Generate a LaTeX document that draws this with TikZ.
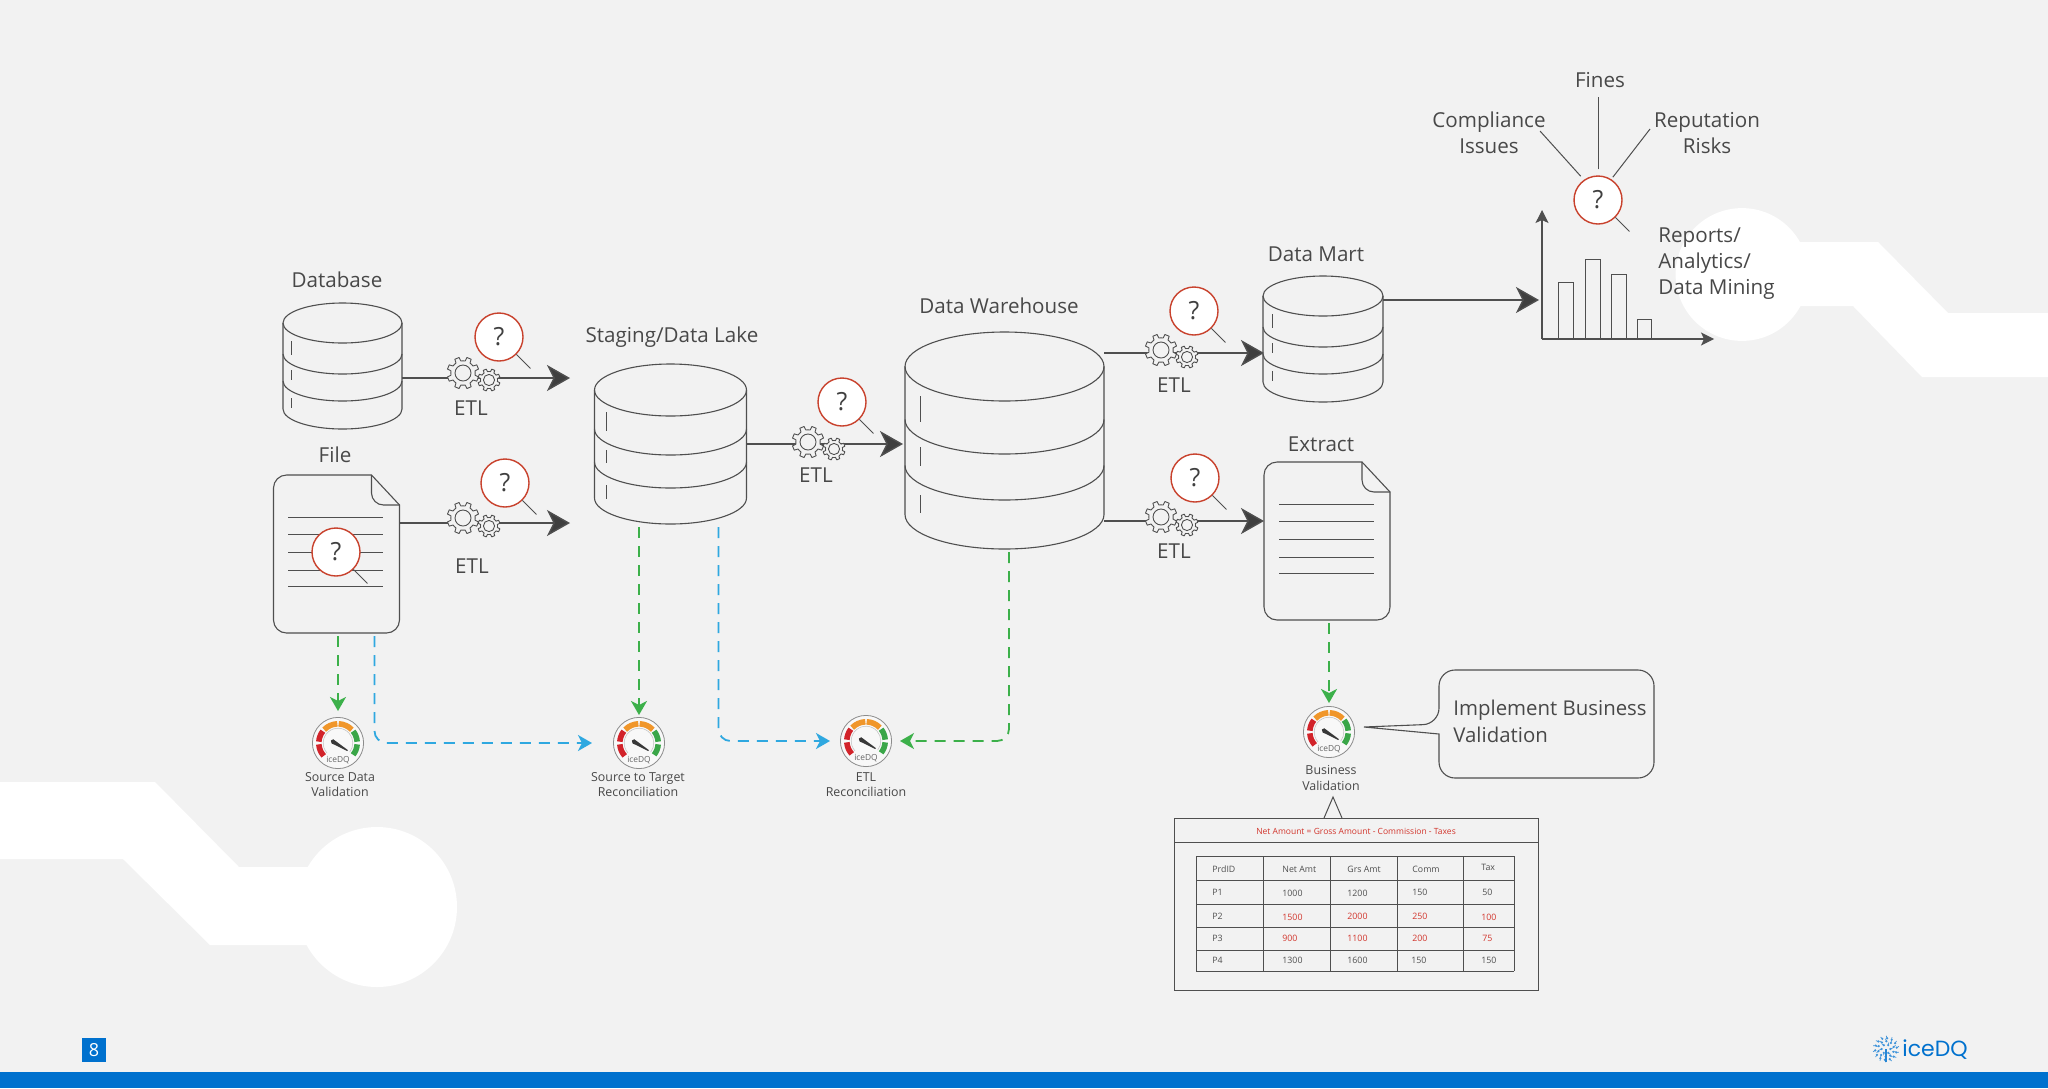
\documentclass[tikz,border=0pt]{standalone}
\usepackage{fontspec}
\setmainfont{Open Sans}
\newfontfamily\logofont{Poppins}
\usetikzlibrary{arrows.meta,calc}
\definecolor{bgc}{HTML}{F2F2F2}
\definecolor{ink}{HTML}{4F4F4F}
\definecolor{txt}{HTML}{484848}
\definecolor{qred}{HTML}{C8412C}
\definecolor{gdash}{HTML}{3CB04A}
\definecolor{bdash}{HTML}{2FA8E0}
\definecolor{barb}{HTML}{0071CE}
\definecolor{tred}{HTML}{D2352C}
\definecolor{gred}{HTML}{D2232A}
\definecolor{gora}{HTML}{F0962A}
\definecolor{ggre}{HTML}{3AA648}
\tikzset{
  shp/.style={draw=ink,line width=0.55pt,fill=bgc},
  ln/.style={draw=ink,line width=0.5pt},
  hit/.style={inner sep=0pt,outer sep=0pt,rectangle},
  flow/.style={draw=ink,line width=0.7pt,-{Stealth[length=11.5pt,width=13pt,inset=3.2pt,fill=ink!80!black]}},
  thinar/.style={draw=ink,line width=0.6pt,-{Stealth[length=6.5pt,width=6.5pt,inset=1.5pt]}},
  gd/.style={draw=gdash,line width=0.9pt,dash pattern=on 5.5pt off 4pt,rounded corners=6pt,-{Stealth[length=7pt,width=8pt,inset=2pt,fill=gdash]}},
  bd/.style={draw=bdash,line width=0.9pt,dash pattern=on 5.5pt off 4pt,rounded corners=6pt,-{Stealth[length=7pt,width=8pt,inset=2pt,fill=bdash]}},
  qc/.style={circle,draw=qred,line width=0.7pt,fill=white,minimum size=24pt,inner sep=0pt,text=black!75,font=\fontsize{12.5}{13}\selectfont},
  lbl/.style={inner sep=0pt,text=txt,align=center,yshift=-0.5pt,font=\fontsize{10.3}{13}\selectfont},
  lbll/.style={lbl,align=left},
  gl/.style={inner sep=0pt,text=txt,align=center,font=\fontsize{6.2}{7.6}\selectfont},
  gaugec/.style={circle,draw=black!45,line width=0.4pt,fill=bgc!50!white,minimum size=25.6pt,inner sep=0pt},
  tc/.style={inner sep=0pt,text=ink,anchor=west,font=\fontsize{4.4}{5}\selectfont},
  tr/.style={tc,text=tred},
}
% name, cx, top, rx, ry, band1 bottom, band2 bottom, bottom, ticks x/y1/y2
\newcommand{\cylshape}[9]{%
  \pgfmathsetmacro{\tcy}{#3+#5}%
  \pgfmathsetmacro{\bcy}{#8-#5}%
  \pgfmathsetmacro{\ony}{#6-#5}%
  \pgfmathsetmacro{\twy}{#7-#5}%
  \pgfmathsetmacro{\rxp}{#4/2}%
  \pgfmathsetmacro{\ryp}{#5/2}%
  \pgfmathsetmacro{\xl}{#2-#4}%
  \pgfmathsetmacro{\xr}{#2+#4}%
  \pgfmathsetmacro{\midy}{(#3+#8)/2}%
  \pgfmathsetmacro{\hp}{(#8-#3)/2}%
  \node[hit,minimum width=#4*1pt,minimum height=\hp pt] (#1) at (#2,\midy) {};
  \draw[shp] (\xl,\tcy) -- (\xl,\bcy) arc[start angle=180,end angle=360,x radius=\rxp pt,y radius=\ryp pt] -- (\xr,\tcy) arc[start angle=0,end angle=180,x radius=\rxp pt,y radius=\ryp pt] -- cycle;
  \draw[shp,fill=none] (\xl,\tcy) arc[start angle=180,end angle=360,x radius=\rxp pt,y radius=\ryp pt];
  \draw[shp,fill=none] (\xl,\ony) arc[start angle=180,end angle=360,x radius=\rxp pt,y radius=\ryp pt];
  \draw[shp,fill=none] (\xl,\twy) arc[start angle=180,end angle=360,x radius=\rxp pt,y radius=\ryp pt];
  \foreach \tx/\ta/\tb in {#9} {\draw[ln,line width=0.4pt] (\tx,\ta) -- (\tx,\tb);}
}
% name, left, top
\newcommand{\docshape}[3]{%
  \pgfmathsetmacro{\dr}{#2+126}%
  \pgfmathsetmacro{\db}{#3+158}%
  \pgfmathsetmacro{\fx}{#2+98}%
  \pgfmathsetmacro{\fy}{#3+30}%
  \pgfmathsetmacro{\mx}{#2+63}%
  \pgfmathsetmacro{\my}{#3+79}%
  \node[hit,minimum width=63pt,minimum height=79pt] (#1) at (\mx,\my) {};
  \draw[shp] (\fx,#3) [rounded corners=6.5pt] -- (#2,#3) -- (#2,\db) -- (\dr,\db) [sharp corners] -- (\dr,\fy) -- cycle;
  \draw[shp,fill=none,rounded corners=6pt] (\fx,#3) -- (\fx,\fy) -- (\dr,\fy);
}
\newcommand{\gearshape}[4]{% x y R teeth
  \pgfmathsetmacro{\gi}{#3*0.76}\pgfmathsetmacro{\gh}{#3*0.5}\pgfmathsetmacro{\gs}{360/#4}%
  \begin{scope}[shift={(#1,#2)}]
  \draw[shp,line width=0.45pt,line join=round] (0:\gi pt)
    \foreach \k in {1,...,#4}{
      -- ({(\k-1)*\gs+0.22*\gs}:\gi pt) -- ({(\k-1)*\gs+0.32*\gs}:#3 pt) -- ({(\k-1)*\gs+0.68*\gs}:#3 pt) -- ({(\k-1)*\gs+0.78*\gs}:\gi pt) -- ({\k*\gs}:\gi pt)
    } -- cycle;
  \draw[ln,line width=0.45pt] (0,0) circle[radius=\gh pt];
  \end{scope}
}
\newcommand{\gearpair}[4]{% big x y, small x y
  \gearshape{#1}{#2}{8}{8}\gearshape{#3}{#4}{5.6}{8}}
\newcommand{\qmark}[3]{%
  \node[qc] (#1) at (#2,#3) {?};
  \draw[ln,line width=0.5pt] (#1.-45) -- ++(7pt,-7pt);
}
\newcommand{\gaugeshape}[3]{%
  \node[gaugec] (#1) at (#2,#3) {};
  \begin{scope}[shift={(#1.center)}]
   \foreach \sa/\sb/\cc in {222/184/gred,176/142/gred,136/92/gora,88/44/gora,38/4/ggre,-4/-38/ggre}{
     \draw[\cc,line width=2.8pt] (\sa:9.6pt) arc[start angle=\sa,end angle=\sb,radius=9.6pt];
   }
   \draw[black!25,line width=0.25pt] (222:7.4pt) arc[start angle=222,end angle=-38,radius=7.4pt];
   \fill[black!78] (-3.6pt,1.2pt) .. controls (-3pt,2.2pt) and (-1.8pt,2.1pt) .. (-1.2pt,1pt) -- (5pt,-3.6pt) -- (4.6pt,-4pt) -- (-1.4pt,-1pt) .. controls (-2.8pt,-0.8pt) and (-3.9pt,0pt) .. (-3.6pt,1.2pt) -- cycle;
   \node[inner sep=0pt,text=black!60,font=\fontsize{4.2}{4.5}\selectfont] (#1t) at (0,-8.6pt) {iceDQ};
  \end{scope}
}
\begin{document}
\begin{tikzpicture}[x=0.5pt,y=-0.5pt]
\useasboundingbox (0,0) rectangle (2048,1088);
\fill[bgc] (0,0) rectangle (2048,1088);
% decoration
\fill[white] (0,782) -- (155,782) -- (239,867) -- (320,867) -- (320,945) -- (210,945) -- (123,859) -- (0,859) -- cycle;
\fill[white] (377,907) circle[radius=40pt];
\fill[white] (1742,274.5) circle[radius=33.2pt];
\fill[white] (1780,242) -- (1878,242) -- (1948,313) -- (2048,313) -- (2048,377) -- (1922,377) -- (1853,306) -- (1780,306) -- cycle;
% bar
\fill[barb] (0,1072) rectangle (2048,1088);
\node[fill=barb,text=white,minimum width=12pt,minimum height=12pt,inner sep=0pt,font=\fontsize{9}{10}\selectfont] (pg) at (94,1050) {8};
% logo
\coordinate (logoc) at (1886,1049);
\foreach \r/\n/\o in {2.2/6/0,3.9/10/15,5.4/14/7}{
  \foreach \k in {1,...,\n}{
    \fill[barb!75!white] (logoc) ++({\o+\k*360/\n}:\r pt) circle[radius=0.62pt];
    \draw[barb!75!white,line width=0.35pt] (logoc) ++({\o+\k*360/\n}:\r pt) -- ++({\o+\k*360/\n+25}:1.3pt);
  }
}
\draw[barb!85!white,line width=0.8pt] (logoc) -- ++(270:6.6pt);
\node[inner sep=0pt,anchor=west,text=barb,font=\logofont\fontsize{11}{12}\selectfont] (logot) at (1902,1050) {iceDQ};

% end points of flows
\coordinate (t1) at (570,378);
\coordinate (t2) at (570,523);
\coordinate (t3) at (903,444);
\coordinate (t4) at (1264,353);
\coordinate (t5) at (1264,521);
\coordinate (t6) at (1539,300);

% shapes
\cylshape{db}{342.5}{303}{59.5}{20}{374}{401}{429}{291/341/355,291/370/380,291/398/408}
\cylshape{stage}{670.5}{364}{76}{26}{455}{488}{524}{606/412/431,606/450/463,606/485/499}
\cylshape{ware}{1004.5}{332}{99.5}{34.5}{454}{500}{549}{920/396/422,920/447/466,920/495/513}
\cylshape{mart}{1323}{276}{60}{20}{347}{374}{402}{1272/314/328,1272/343/353,1272/371/381}
\docshape{file}{273.5}{475}
\docshape{extract}{1264}{462}
\foreach \y in {517,534,552,570,586} \draw[ln] (288,\y) -- (383,\y);
\foreach \y in {504,521,539,557,573} \draw[ln] (1279,\y) -- (1374,\y);

% flows
\draw[flow] (db.east |- t1) -- (t1);
\draw[flow] (file.east |- t2) -- (t2);
\draw[flow] (stage.east |- t3) -- (t3);
\draw[flow] (ware.east |- t4) -- (t4);
\draw[flow] (ware.east |- t5) -- (t5);
\draw[flow] (mart.east |- t6) -- (t6);

\gearpair{463}{373}{489}{380}
\gearpair{463}{518}{489}{526}
\gearpair{808}{442}{834}{449}
\gearpair{1161}{350}{1187}{357}
\gearpair{1161}{517}{1187}{525}

\qmark{q1}{499}{337}
\qmark{q2}{505}{483}
\qmark{q3}{336}{552}
\qmark{q4}{842}{402}
\qmark{q5}{1194}{311}
\qmark{q6}{1195}{478}
\qmark{q7}{1598}{200}

% labels
\node[lbl] (ldb) at (337,279) {Database};
\node[lbl] (lfile) at (335,454) {File};
\node[lbl] (lst) at (672,336) {Staging/Data Lake};
\node[lbl] (lwa) at (999,305) {Data Warehouse};
\node[lbl] (lma) at (1316,253) {Data Mart};
\node[lbl] (lex) at (1321,443) {Extract};
\node[lbl] (e1) at (471,407) {ETL};
\node[lbl] (e2) at (472,565) {ETL};
\node[lbl] (e3) at (816,474) {ETL};
\node[lbl] (e4) at (1174,384) {ETL};
\node[lbl] (e5) at (1174,550) {ETL};
\node[lbl] (lfi) at (1600,79) {Fines};
\node[lbl] (lco) at (1489,132) {Compliance\\Issues};
\node[lbl] (lre) at (1707,132) {Reputation\\Risks};
\node[lbll,anchor=west] (lrp) at (1658,263) {Reports/\\Analytics/\\Data Mining};

% chart
\coordinate (org) at (1542,339);
\coordinate (yt) at (1542,210);
\coordinate (xt) at (1714,339);
\draw[thinar] (org) -- (yt);
\draw[thinar] (org) -- (xt);
\foreach \xa/\xb/\yt in {1558/1573/282,1585/1600/259,1611/1626/274,1637/1651/319}
  \draw[ln,fill=none] (\xa,339) -- (\xa,\yt) -- (\xb,\yt) -- (\xb,339);
% impact lines
\coordinate (ifi) at (1598,97);
\coordinate (ico) at (1540,131);
\coordinate (ire) at (1650,129);
\draw[ln] ([yshift=3pt]q7.north) -- (ifi);
\draw[ln] ($(q7)!1.19!(q7.126)$) -- (ico);
\draw[ln] ($(q7)!1.1!(q7.57)$) -- (ire);

% gauges
\gaugeshape{g1}{338}{743}
\gaugeshape{g2}{639}{743}
\gaugeshape{g3}{866}{741}
\gaugeshape{g4}{1329}{732}
\node[gl] (lg1) at (340,784.5) {Source Data\\Validation};
\node[gl] (lg2) at (638,784.5) {Source to Target\\Reconciliation};
\node[gl] (lg3) at (866,785) {ETL\\Reconciliation};
\node[gl] (lg4) at (1331,778) {Business\\Validation};

% validation connectors
\draw[gd] ([yshift=-1.5pt]file.south -| g1.north) -- ([yshift=3pt]g1.north);
\draw[bd] ([shift={(19pt,-1.5pt)}]file.south) |- ([xshift=-10.5pt]g2.west);
\draw[gd] ([yshift=-1.5pt]stage.south -| g2.north) -- ([yshift=1pt]g2.north);
\draw[bd] ([shift={(24pt,-1.5pt)}]stage.south) |- ([xshift=-5pt]g3.west);
\draw[gd] ([shift={(2.25pt,-1.5pt)}]ware.south) |- ([xshift=4pt]g3.east);
\draw[gd] ([yshift=-1.5pt]extract.south -| g4.north) -- ([yshift=1.5pt]g4.north);

% callout
\node[hit,anchor=west,minimum width=107.5pt,minimum height=54pt] (call) at (1439,724) {};
\coordinate (ctip) at (1364,727);
\draw[shp] (1439,734) [rounded corners=8pt] -- (call.south west) -- (call.south east) -- (call.north east) -- (call.north west) -- (1439,724) [sharp corners] -- (ctip) -- cycle;
\node[lbll,anchor=west,font=\fontsize{10.2}{13.5}\selectfont] (ctext) at (1453,720) {Implement Business\\Validation};

% table
\coordinate (ttip) at (1333,797);
\draw[shp,line width=0.5pt] (1174,818) rectangle (1538,990);
\node[hit,minimum width=182pt,minimum height=86pt] (tbox) at (1356,904) {};
\draw[ln,line width=0.5pt] (1324,818) -- (ttip) -- (1342,818);
\draw[ln,line width=0.5pt] (tbox.west |- 0,842) -- (tbox.east |- 0,842);
\node[tc,anchor=center,text=tred,font=\fontsize{4.25}{5}\selectfont] (thead) at (1356,831) {Net Amount = Gross Amount - Commission - Taxes};
\foreach \x in {1196,1263,1330,1397,1463,1514} \draw[ln,line width=0.42pt] (\x,856) -- (\x,971);
\foreach \y in {856,880,904,927,950,971} \draw[ln,line width=0.42pt] (1196,\y) -- (1514,\y);
\node[tc] (h1) at (1212,869) {PrdID};
\node[tc] (h2) at (1282,869) {Net Amt};
\node[tc] (h3) at (1347,869) {Grs Amt};
\node[tc] (h4) at (1412,869) {Comm};
\node[tc] (h5) at (1481,867) {Tax};
\node[tc] (a1) at (1212,892) {P1};
\node[tc] (a2) at (1282,893) {1000};
\node[tc] (a3) at (1347,893) {1200};
\node[tc] (a4) at (1412,892) {150};
\node[tc] (a5) at (1482,892) {50};
\node[tc] (b1) at (1212,916) {P2};
\node[tr] (b2) at (1282,917) {1500};
\node[tr] (b3) at (1347,916) {2000};
\node[tr] (b4) at (1412,916) {250};
\node[tr] (b5) at (1481,917) {100};
\node[tc] (c1) at (1212,938) {P3};
\node[tr] (c2) at (1282,938) {900};
\node[tr] (c3) at (1347,938) {1100};
\node[tr] (c4) at (1412,938) {200};
\node[tr] (c5) at (1482,938) {75};
\node[tc] (d1) at (1212,960) {P4};
\node[tc] (d2) at (1282,960) {1300};
\node[tc] (d3) at (1347,960) {1600};
\node[tc] (d4) at (1411,960) {150};
\node[tc] (d5) at (1481,960) {150};
\end{tikzpicture}
\end{document}
